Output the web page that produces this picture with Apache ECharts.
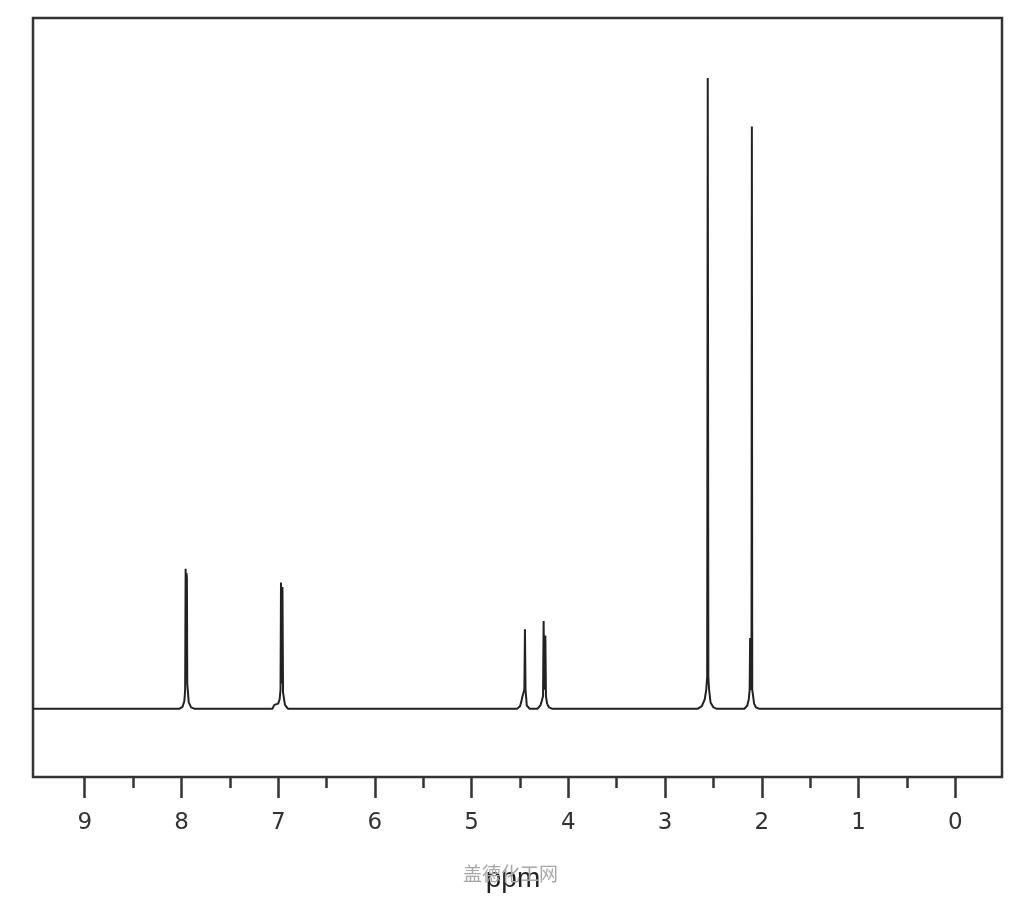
<!DOCTYPE html>
<html>
<head>
<meta charset="utf-8">
<script src="https://cdn.jsdelivr.net/npm/echarts@6/dist/echarts.min.js"></script>
<style>
html,body{margin:0;padding:0;background:#fff;}
#chart{width:1024px;height:900px;}
</style>
</head>
<body>
<div id="chart"></div>
<script>
// Axis range (ppm, reversed) and tick values
const ppmRange = [-0.483, 9.535];
const majorTicks = [0, 1, 2, 3, 4, 5, 6, 7, 8, 9];
const minorTicks = [0.5, 1.5, 2.5, 3.5, 4.5, 5.5, 6.5, 7.5, 8.5];
const axisTitle = 'ppm';
const watermark = '盖德化工网';

// Spectrum trace: [ppm, intensity]
const baselineStart = [[9.535, 0]];
const peak79 = [[8.02,0],[7.99,0.3],[7.97,1.2],[7.962,3],[7.957,22.2],[7.952,5],[7.948,21.5],[7.944,20.8],[7.940,4],[7.925,1],[7.90,0.2],[7.87,0]];
const peak695 = [[7.06,0],[7.04,0.6],[7.0,0.8],[6.985,1.5],[6.976,3],[6.971,20.0],[6.963,4],[6.956,19.3],[6.950,2.6],[6.942,2.4],[6.93,0.6],[6.90,0]];
const peak445 = [[4.53,0],[4.50,0.4],[4.485,1.2],[4.476,1.9],[4.462,1.6],[4.455,3],[4.449,12.6],[4.443,3],[4.43,0.5],[4.40,0]];
const peak425 = [[4.32,0],[4.29,0.5],[4.275,1.2],[4.262,2],[4.256,13.9],[4.248,3],[4.238,11.6],[4.232,2],[4.22,0.8],[4.20,0.2],[4.17,0]];
const peak256 = [[2.66,0],[2.62,0.4],[2.59,1.5],[2.575,3],[2.565,5],[2.559,100],[2.553,5],[2.545,3],[2.53,1],[2.50,0.2],[2.47,0]];
const peak210 = [[2.18,0],[2.15,0.5],[2.135,1.5],[2.126,3],[2.121,11.2],[2.114,3],[2.107,3.5],[2.103,92.3],[2.099,3],[2.09,2],[2.08,0.8],[2.06,0.2],[2.03,0]];
const baselineEnd = [[-0.483, 0]];

const spectrum = [].concat(baselineStart, peak79, peak695, peak445, peak425, peak256, peak210, baselineEnd);

const chart = echarts.init(document.getElementById('chart'), null, {renderer: 'canvas'});
const ink = '#333';
chart.setOption({
  animation: false,
  backgroundColor: '#fff',
  grid: {
    left: 33, top: 18, right: 22, bottom: 123,
    show: true, borderColor: ink, borderWidth: 2.5, backgroundColor: 'transparent',
    containLabel: false
  },
  xAxis: [
    {
      type: 'value', position: 'bottom', inverse: true,
      min: ppmRange[0], max: ppmRange[1],
      axisLine: {show: false, onZero: false},
      splitLine: {show: false},
      axisTick: {show: true, length: 21, lineStyle: {color: ink, width: 2.5}, customValues: majorTicks},
      axisLabel: {
        show: true, customValues: majorTicks, margin: 35,
        color: '#333', fontFamily: 'DejaVu Sans', fontSize: 23, lineHeight: 23,
        formatter: v => String(Math.round(v))
      },
      name: axisTitle, nameLocation: 'middle', nameGap: 88,
      nameTextStyle: {color: '#222', fontFamily: 'Liberation Sans', fontSize: 28, padding: [0, 9, 0, 0]}
    },
    {
      type: 'value', position: 'bottom', inverse: true,
      min: ppmRange[0], max: ppmRange[1],
      axisLine: {show: false, onZero: false},
      splitLine: {show: false},
      axisTick: {show: true, length: 11, lineStyle: {color: ink, width: 2.5}, customValues: minorTicks},
      axisLabel: {show: false}
    }
  ],
  yAxis: {
    type: 'value', min: -10.83, max: 109.52, show: false, splitLine: {show: false}
  },
  graphic: [
    {
      type: 'text', left: 463, top: 864, z: 1, silent: true,
      style: {text: watermark, fill: '#a8a8a8', font: '19px "Noto Sans CJK SC"'}
    }
  ],
  series: [
    {
      type: 'line', xAxisIndex: 0, yAxisIndex: 0,
      data: spectrum, showSymbol: false, symbol: 'none', silent: true, clip: true,
      lineStyle: {color: '#222', width: 2, join: 'bevel'}
    }
  ]
});
</script>
</body>
</html>
